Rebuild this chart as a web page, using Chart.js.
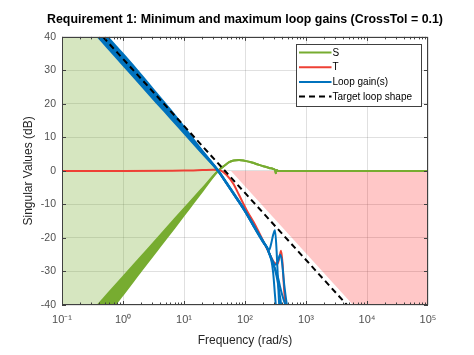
<!DOCTYPE html>
<html>
<head>
<meta charset="utf-8">
<script src="https://cdn.jsdelivr.net/npm/chart.js@4.4.1/dist/chart.umd.min.js"></script>
<style>
html,body{margin:0;padding:0;background:#fff;}
#wrap{width:474px;height:355px;}
</style>
</head>
<body>
<div id="wrap"><canvas id="c" width="474" height="355"></canvas></div>
<script>
// ---------- data ----------
const titleText = 'Requirement 1: Minimum and maximum loop gains (CrossTol = 0.1)';
const xAxisTitle = 'Frequency (rad/s)';
const yAxisTitle = 'Singular Values (dB)';
const xTickValues = [0.1, 1, 10, 100, 1000, 10000, 100000];
const xTickLabels = ['10⁻¹', '10⁰', '10¹', '10²', '10³', '10⁴', '10⁵'];
const yTickValues = [-40, -30, -20, -10, 0, 10, 20, 30, 40];
const legendLabels = ['S', 'T', 'Loop gain(s)', 'Target loop shape'];

// loop gain singular values (several curves)
const loopFreq = [0.1, 0.2, 0.35, 0.56, 1, 2, 3.5, 6, 10, 20, 36, 50, 70, 100, 140, 200, 230, 250, 270, 290, 310, 330, 350, 375, 400, 440, 490, 600];
const loopDbA = [51.9, 45.8, 40.9, 36.7, 31.6, 25.5, 20.5, 15.8, 11.3, 5.2, 0, -3.8, -7.8, -12.0, -16.5, -21.0, -22.8, -23.5, -21.5, -19.0, -17.7, -24.0, -34.0, -45, -52, -60, -66, -76];
const loopDbB = [55.5, 49.4, 44.4, 40.0, 34.9, 28.6, 23.3, 18.2, 13.1, 6.0, 0.3, -3.5, -7.4, -11.7, -16.3, -21.2, -22.9, -24.5, -26.5, -30.5, -37.0, -43, -48, -54, -58, -64, -70, -78];
const loopDbC = [53.7, 47.6, 42.6, 38.3, 33.2, 27.0, 21.9, 17.0, 12.2, 5.6, 0.1, -3.7, -7.7, -12.0, -16.6, -21.3, -23.0, -24.5, -26.0, -27.5, -29.5, -31.5, -34.0, -37.5, -41, -47, -53, -62];
const loopDbD = [54.6, 48.5, 43.5, 39.2, 34.1, 27.8, 22.6, 17.6, 12.6, 5.8, 0.2, -3.6, -7.6, -11.9, -16.5, -21.2, -23.0, -24.8, -26.5, -28.0, -29.0, -30.5, -32.0, -34.5, -36.5, -39.0, -41.0, -47];
const loopDbE = [52.8, 46.7, 41.7, 37.5, 32.4, 26.2, 21.2, 16.4, 11.7, 5.4, 0.05, -3.7, -7.7, -12.1, -16.7, -21.4, -23.0, -24.6, -26.0, -27.2, -28.0, -27.8, -26.8, -25.0, -26.5, -34.0, -40.5, -50];

// complementary sensitivity T
const tFreq = [0.1, 1, 10, 20, 30, 40, 50, 64, 80, 107, 150, 200, 250, 300, 340, 370, 390, 410, 440, 500];
const tDb = [0, 0, 0.1, 0.25, 0.35, 0.1, -1.2, -3.75, -7.2, -11.8, -16.4, -21.0, -24.6, -27.3, -27.8, -25.5, -23.8, -27.0, -36.0, -48.0];

// sensitivity S (two bounding curves of the band)
const sFreq = [0.1, 0.2, 0.35, 0.6, 1, 2, 4, 7, 12, 20, 36, 47, 55, 65, 80, 100, 130, 170, 200, 250, 290, 310, 320, 330, 350, 400, 100000];
const sDbA = [-51.9, -45.8, -40.9, -36.1, -31.6, -25.5, -19.4, -14.4, -9.7, -5.2, 0, 1.7, 2.6, 3.1, 3.3, 3.0, 2.5, 1.8, 1.4, 0.9, 0.6, 0.3, -0.7, 0.3, 0, 0, 0];
const sDbB = [-60.5, -53.3, -47.6, -42.0, -36.9, -29.7, -22.6, -16.9, -11.3, -6.0, 0, 1.7, 2.6, 3.1, 3.3, 3.0, 2.5, 1.8, 1.4, 0.9, 0.6, 0.3, -0.7, 0.3, 0, 0, 0];

// target loop shape
const targetFreq = [0.47, 4700];
const targetDb = [40, -40];

// shaded requirement regions
const minGainFreq = [0.1, 0.373, 37.3];
const minGainUpperDb = [40, 40, 0];
const minGainLowerDb = [-40, -40, 0];
const maxGainFreq = [59, 5900, 100000];
const maxGainDb = [0, -40, -40];

// ---------- styles ----------
const FONT = "'Liberation Sans', Arial, Helvetica, sans-serif";
const colS = '#77AC30', colT = '#EE4035', colL = '#0072BD';
const clear = 'rgba(0,0,0,0)';

function pts(f, d) { return f.map((v, i) => ({ x: v, y: d[i] })); }
function line(data, color, order, extra) {
  return Object.assign({
    data, borderColor: color, backgroundColor: color, borderWidth: 2,
    pointRadius: 0, pointHoverRadius: 0, fill: false, order, clip: 0,
    cubicInterpolationMode: 'monotone'
  }, extra || {});
}
function area(data, color, fill, order, extra) {
  return Object.assign({
    data, borderColor: clear, backgroundColor: color, borderWidth: 1,
    pointRadius: 0, pointHoverRadius: 0, fill, order, clip: 0
  }, extra || {});
}

const nLow = loopFreq.indexOf(36) + 1;
const nLowS = sFreq.indexOf(36) + 1;

const datasets = [
  line(pts(targetFreq, targetDb), '#000000', 0, { borderDash: [6, 4], cubicInterpolationMode: 'default' }), // 0
  line(pts(loopFreq, loopDbA), colL, 1), // 1
  line(pts(loopFreq, loopDbB), colL, 1), // 2
  line(pts(loopFreq, loopDbC), colL, 1), // 3
  line(pts(loopFreq, loopDbD), colL, 1), // 4
  line(pts(loopFreq, loopDbE), colL, 1), // 5
  area(pts(loopFreq.slice(0, nLow), loopDbB.slice(0, nLow)), colL, 7, 1, { cubicInterpolationMode: 'monotone' }), // 6
  area(pts(loopFreq.slice(0, nLow), loopDbA.slice(0, nLow)), clear, false, 1, { cubicInterpolationMode: 'monotone' }), // 7
  line(pts(tFreq, tDb), colT, 2), // 8
  line(pts(sFreq, sDbA), colS, 3), // 9
  line(pts(sFreq, sDbB), colS, 3), // 10
  area(pts(sFreq.slice(0, nLowS), sDbA.slice(0, nLowS)), colS, 12, 3, { cubicInterpolationMode: 'monotone' }), // 11
  area(pts(sFreq.slice(0, nLowS), sDbB.slice(0, nLowS)), clear, false, 3, { cubicInterpolationMode: 'monotone' }), // 12
  area(pts(maxGainFreq, maxGainDb), 'rgba(255,0,0,0.22)', { value: 0 }, 9), // 13
  area(pts(minGainFreq, minGainUpperDb), 'rgba(119,172,48,0.3)', { value: 0 }, 9), // 14
  area(pts(minGainFreq, minGainLowerDb), 'rgba(119,172,48,0.3)', { value: 0 }, 9)  // 15
];

const legendItems = [
  { text: legendLabels[0], color: colS, dash: [] },
  { text: legendLabels[1], color: colT, dash: [] },
  { text: legendLabels[2], color: colL, dash: [] },
  { text: legendLabels[3], color: '#000000', dash: [6, 4] }
];

// frame, inner ticks and legend box
const framePlugin = {
  id: 'frame',
  afterDraw(chart) {
    const { ctx, chartArea: a, scales } = chart;
    const xs = scales.x, ys = scales.y;
    ctx.save();
    ctx.strokeStyle = '#404040';
    ctx.lineWidth = 1;
    ctx.beginPath();
    for (let d = -1; d <= 4; d++) {
      for (let m = 1; m <= 9; m++) {
        const v = m * Math.pow(10, d);
        const px = Math.round(xs.getPixelForValue(v)) + 0.5;
        const len = m === 1 ? 4 : 2.5;
        ctx.moveTo(px, a.bottom); ctx.lineTo(px, a.bottom - len);
        ctx.moveTo(px, a.top); ctx.lineTo(px, a.top + len);
      }
    }
    yTickValues.forEach(v => {
      const py = Math.round(ys.getPixelForValue(v)) + 0.5;
      ctx.moveTo(a.left, py); ctx.lineTo(a.left + 4, py);
      ctx.moveTo(a.right, py); ctx.lineTo(a.right - 4, py);
    });
    ctx.stroke();
    ctx.strokeRect(Math.round(a.left) + 0.5, Math.round(a.top) + 0.5,
                   Math.round(a.right - a.left) - 1, Math.round(a.bottom - a.top) - 1);

    // legend box (top-right inside axes)
    const bx = 296.5, by = 44.5, bw = 125, bh = 62, rowH = 14.7;
    ctx.fillStyle = '#ffffff';
    ctx.fillRect(bx, by, bw, bh);
    ctx.strokeStyle = '#404040';
    ctx.strokeRect(bx, by, bw, bh);
    ctx.font = '10px ' + FONT;
    ctx.textBaseline = 'middle';
    ctx.textAlign = 'left';
    legendItems.forEach((it, i) => {
      const yy = by + 8 + i * rowH;
      ctx.beginPath();
      ctx.setLineDash(it.dash);
      ctx.strokeStyle = it.color;
      ctx.lineWidth = 2;
      ctx.moveTo(bx + 2.5, yy); ctx.lineTo(bx + 35, yy);
      ctx.stroke();
      ctx.setLineDash([]);
      ctx.fillStyle = '#000000';
      ctx.fillText(it.text, bx + 36, yy + 0.5);
    });
    ctx.restore();
  }
};

new Chart(document.getElementById('c'), {
  type: 'line',
  data: { datasets },
  plugins: [framePlugin],
  options: {
    responsive: false,
    devicePixelRatio: 1,
    animation: false,
    events: [],
    layout: { padding: { left: 16, right: 0, top: 0, bottom: 0 } },
    plugins: {
      legend: { display: false },
      tooltip: { enabled: false },
      title: {
        display: true, text: titleText, color: '#000000',
        font: { family: FONT, size: 12.4, weight: 'bold' },
        padding: { top: 12, bottom: 10 }
      }
    },
    scales: {
      x: {
        type: 'logarithmic', position: 'bottom', min: 0.1, max: 100000,
        afterBuildTicks: s => { s.ticks = xTickValues.map(v => ({ value: v })); },
        afterFit: s => { s.height = 50; },
        ticks: {
          autoSkip: false, maxRotation: 0, minRotation: 0, padding: 8,
          color: '#505050', font: { family: FONT, size: 11 },
          callback: (v, i) => xTickLabels[i]
        },
        grid: { color: 'rgba(38,38,38,0.14)', drawTicks: false },
        border: { display: false },
        title: { display: true, text: xAxisTitle, color: '#262626',
                 font: { family: FONT, size: 12 }, padding: { top: 0, bottom: 7 } }
      },
      y: {
        type: 'linear', position: 'left', min: -40, max: 40,
        afterBuildTicks: s => { s.ticks = yTickValues.map(v => ({ value: v })); },
        afterFit: s => { s.width = 46; },
        ticks: { padding: 6, color: '#505050', font: { family: FONT, size: 10.5 },
                 callback: v => String(v) },
        grid: { color: 'rgba(38,38,38,0.14)', drawTicks: false },
        border: { display: false },
        title: { display: true, text: yAxisTitle, color: '#262626',
                 font: { family: FONT, size: 12 }, padding: { top: 5, bottom: 0 } }
      },
      ySpacer: {
        type: 'linear', position: 'right', display: true,
        afterFit: s => { s.width = 46; },
        ticks: { display: false },
        grid: { display: false, drawTicks: false },
        border: { display: false }
      }
    }
  }
});
</script>
</body>
</html>
